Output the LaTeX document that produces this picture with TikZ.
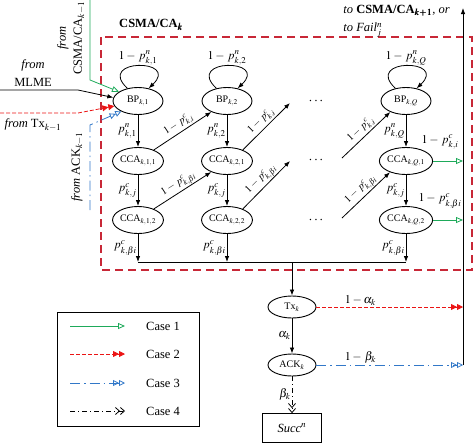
\documentclass[tikz,border=0pt]{standalone}
\usepackage{mathptmx}
\usepackage{bm}
\usepackage{fontspec}
\setmainfont{Liberation Serif}
\usetikzlibrary{arrows.meta,calc,shapes.geometric}
\definecolor{cgreen}{RGB}{30,170,90}
\definecolor{cred}{RGB}{235,20,20}
\definecolor{cbox}{RGB}{200,40,55}
\definecolor{cblue}{RGB}{50,120,200}
\begin{document}
\begin{tikzpicture}[x=1pt,y=1pt,line width=0.8pt,
  st/.style={draw,ellipse,line width=0.9pt,minimum width=50pt,minimum height=27pt,inner sep=0pt,font=\fontsize{10}{11}\selectfont},
  lab/.style={text=black,font=\fontsize{12}{14}\selectfont,inner sep=1pt},
  slab/.style={text=black,font=\fontsize{10.5}{12}\selectfont,inner sep=0.5pt},
  txt/.style={font=\fontsize{12.5}{15}\selectfont,inner sep=0pt},
  arr/.style={-{Latex[length=6pt,width=4.5pt]}},
  c1/.style={cgreen,-{Triangle[open,length=7pt,width=6pt]}},
  c2/.style={cred,dash pattern=on 4pt off 2pt,-{Triangle[length=6pt,width=6pt]Triangle[length=6pt,width=6pt]}},
  c3/.style={cblue,dash pattern=on 10pt off 4pt on 1.5pt off 4pt,-{Triangle[open,length=6pt,width=6pt]Triangle[open,length=6pt,width=6pt]}},
  c4/.style={black,dash pattern=on 5pt off 3pt on 1pt off 3pt,-{Straight Barb[length=4pt,width=7pt]Straight Barb[length=4pt,width=7pt]}}]
\useasboundingbox (0,0) rectangle (474,-445);

% dashed box
\draw[cbox,line width=1.3pt,dash pattern=on 8pt off 5pt] (101,-37) rectangle (472,-270);
\node[font=\bfseries\fontsize{12.5}{15}\selectfont,inner sep=0pt] (title) at (151,-25) {CSMA/CA$_{\bm{k}}$};

% states
\node[st] (b1) at (138,-101) {BP$_{k,1}$};
\node[st] (b2) at (227,-101) {BP$_{k,2}$};
\node[st] (bq) at (406,-101) {BP$_{k,Q}$};
\node[st] (c11) at (138,-161) {CCA$_{k,1,1}$};
\node[st] (c21) at (227,-161) {CCA$_{k,2,1}$};
\node[st] (cq1) at (406,-161) {CCA$_{k,Q,1}$};
\node[st] (c12) at (138,-220) {CCA$_{k,1,2}$};
\node[st] (c22) at (227,-220) {CCA$_{k,2,2}$};
\node[st] (cq2) at (406,-220) {CCA$_{k,Q,2}$};

% dots
\node[font=\bfseries\fontsize{14}{16}\selectfont,inner sep=1pt] (dt1) at (316,-101) {$\bm{\cdots}$};
\node[font=\bfseries\fontsize{14}{16}\selectfont,inner sep=1pt] (dt2) at (316,-160) {$\bm{\cdots}$};
\node[font=\bfseries\fontsize{14}{16}\selectfont,inner sep=1pt] (dt3) at (316,-220) {$\bm{\cdots}$};

% self loops
\foreach \n/\i in {b1/1,b2/2,bq/Q}{
  \draw[arr] (\n.130) .. controls +(-32,30) and +(32,30) .. (\n.50);
  \node[lab] at ($(\n)+(0,43)$) {$1-\,p^{n}_{k,\i}$};
}

% vertical arrows
\draw[arr] (b1) -- node[lab,left] {$p^{n}_{k,1}$} (c11);
\draw[arr] (b2) -- node[lab,left] {$p^{n}_{k,2}$} (c21);
\draw[arr] (bq) -- node[lab,left] {$p^{n}_{k,Q}$} (cq1);
\draw[arr] (c11) -- node[lab,left] {$p^{c}_{k,j}$} (c12);
\draw[arr] (c21) -- node[lab,left] {$p^{c}_{k,j}$} (c22);
\draw[arr] (cq1) -- node[lab,left] {$p^{c}_{k,j}$} (cq2);

% collecting line
\coordinate (m1) at (138,-262);
\coordinate (m2) at (227,-262);
\coordinate (mq) at (406,-262);
\coordinate (mt) at (292,-262);
\draw (m1) -- (mq);
\draw[arr] (c12) -- node[lab,left] {$p^{c}_{k,\beta i}$} (m1);
\draw[arr] (c22) -- node[lab,left] {$p^{c}_{k,\beta i}$} (m2);
\draw[arr] (cq2) -- node[lab,left] {$p^{c}_{k,\beta i}$} (mq);

% diagonals
\coordinate (d1) at (290,-103);
\coordinate (d2) at (290,-161);
\coordinate (e1) at (342,-158);
\coordinate (e2) at (342,-218);
\draw[arr] (c11.35) -- node[slab,sloped,above] {$1-\,p^{c}_{k,i}$} (b2.215);
\draw[arr] (c12.35) -- node[slab,sloped,above] {$1-\,p^{c}_{k,\beta i}$} (c21.215);
\draw[arr] (c21.35) -- node[slab,sloped,above] {$1-\,p^{c}_{k,i}$} (d1);
\draw[arr] (c22.35) -- node[slab,sloped,above] {$1-\,p^{c}_{k,\beta i}$} (d2);
\draw[arr] (e1) -- node[slab,sloped,above] {$1-\,p^{c}_{k,i}$} (bq.215);
\draw[arr] (e2) -- node[slab,sloped,above] {$1-\,p^{c}_{k,\beta i}$} (cq1.215);

% right side
\coordinate (rtop) at (463,-8);
\coordinate (rbot) at (463,-365);
\coordinate (g1) at (463,-161);
\coordinate (g2) at (463,-220);
\coordinate (r2) at (463,-307);
\draw[arr] (rbot) -- (rtop);
\draw[c1] (cq1) -- (g1);
\draw[c1] (cq2) -- (g2);
\node[lab] (lg1) at (440,-142) {$1-\,p^{c}_{k,i}$};
\node[lab] (lg2) at (440,-201) {$1-\,p^{c}_{k,\beta i}$};
\node[txt,anchor=west] (to1) at (343,-11) {\textit{to} \textbf{CSMA/CA}$_{\bm{k+1}}$\textit{, or}};
\node[txt,anchor=west] (to2) at (343,-30) {\textit{to Fail}$^{n}_{j}$};

% Tx / ACK / Succ
\node[st,minimum width=48pt,minimum height=22pt] (tx) at (292,-307) {Tx$_k$};
\node[st,minimum width=48pt,minimum height=22pt] (ack) at (292,-365) {ACK$_k$};
\node[draw,minimum width=59pt,minimum height=29pt,txt] (succ) at (292,-428) {\textit{Succ}$^{n}$};
\draw[arr] (mt) -- (tx);
\draw[arr] (tx) -- node[lab,left] {$\alpha_k$} (ack);
\draw[c2] (tx) -- node[lab,above,pos=0.3] {$1-\alpha_k$} (r2);
\draw[c3] (ack) -- node[lab,above,pos=0.3] {$1-\,\beta_k$} (rbot);
\draw[c4] (ack) -- node[lab,left] {$\beta_k$} (succ);

% left inputs
\coordinate (ga) at (90,0);
\coordinate (gb) at (90,-80);
\coordinate (ka) at (0,-90);
\coordinate (kb) at (78,-90);
\coordinate (ra) at (0,-113);
\coordinate (rb) at (78,-113);
\coordinate (ba) at (90,-210);
\coordinate (bb) at (90,-125);
\draw[c1] (ga) -- (gb) -- (b1.154);
\draw[arr] (ka) -- (kb) -- (b1.172);
\draw[c2] (ra) -- (rb) -- (b1.192);
\draw[c3] (ba) -- (bb) -- (b1.212);
\node[txt,rotate=90,align=center] (fcs) at (71,-38) {\textit{from}\\[1pt]CSMA/CA$_{k-1}$};
\node[txt,align=center] (fml) at (33,-73) {\textit{from}\\[3pt]MLME};
\node[txt] (ftx) at (33,-125) {\textit{from} Tx$_{k-1}$};
\node[txt,rotate=90] (fack) at (77,-167) {\textit{from} ACK$_{k-1}$};

% legend
\node[draw,minimum width=142pt,minimum height=114pt] (leg) at (128,-369) {};
\coordinate (l1a) at (70,-326); \coordinate (l1b) at (125,-326);
\coordinate (l2a) at (70,-354); \coordinate (l2b) at (125,-354);
\coordinate (l3a) at (70,-383); \coordinate (l3b) at (125,-383);
\coordinate (l4a) at (70,-411); \coordinate (l4b) at (125,-411);
\draw[c1] (l1a) -- (l1b);
\draw[c2] (l2a) -- (l2b);
\draw[c3] (l3a) -- (l3b);
\draw[c4] (l4a) -- (l4b);
\node[txt] (t1) at (163,-326) {Case 1};
\node[txt] (t2) at (163,-354) {Case 2};
\node[txt] (t3) at (163,-383) {Case 3};
\node[txt] (t4) at (163,-411) {Case 4};
\end{tikzpicture}
\end{document}
